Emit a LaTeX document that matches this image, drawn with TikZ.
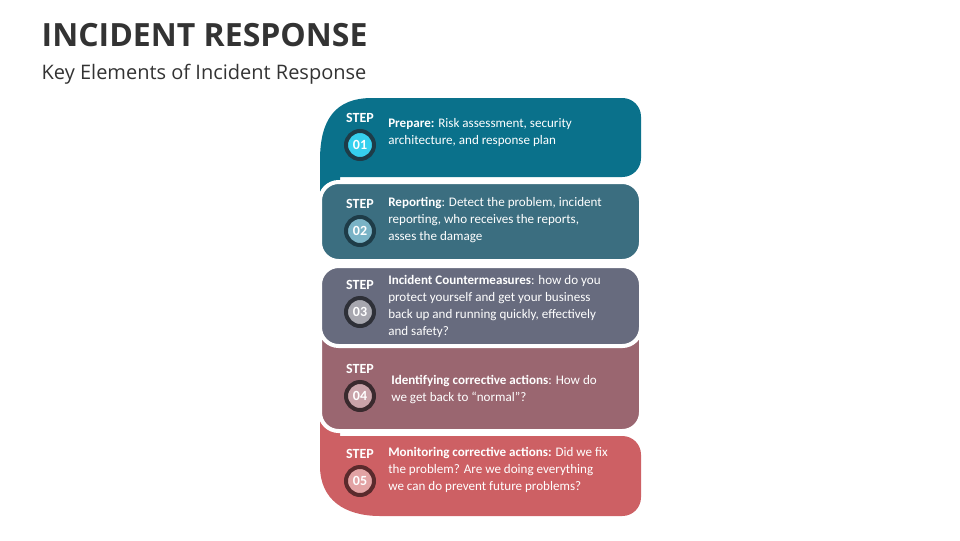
\documentclass[tikz,border=0pt]{standalone}
\usepackage{fontspec}
\setmainfont{Carlito}
\newfontfamily\titlefont{Open Sans}
\begin{document}
\begin{tikzpicture}[x=0.75pt,y=-0.75pt,
  sep/.style={draw=white,line width=3pt,rounded corners=14pt},
  steplbl/.style={font=\bfseries\fontsize{10.5pt}{12pt}\selectfont,text=white},
  num/.style={circle,minimum size=21pt,inner sep=0pt,line width=3pt,font=\bfseries\fontsize{10.5pt}{12pt}\selectfont,text=white},
  desc/.style={anchor=west,align=left,text=white,font=\fontsize{9.8pt}{12.75pt}\selectfont,inner sep=0pt}]
\definecolor{c1}{HTML}{0A718B}\definecolor{c2}{HTML}{3B6E80}
\definecolor{c3}{HTML}{676B7E}\definecolor{c4}{HTML}{9A6670}
\definecolor{c5}{HTML}{CD6064}
\useasboundingbox (0,0) rectangle (960,540);
\node[anchor=west,font=\titlefont\bfseries\fontsize{24pt}{28pt}\selectfont,text=black!80] (title) at (37,35) {INCIDENT RESPONSE};
\node[anchor=west,font=\titlefont\fontsize{15pt}{18pt}\selectfont,text=black!80] (sub) at (37,74) {Key Elements of Incident Response};
% band 1
\fill[c1] (320,240) -- (320,160) .. controls (320,120) and (335,98) .. (372,98) [rounded corners=14pt] -- (641,98) -- (641,177) [sharp corners] -- (340,177) -- (340,240) -- cycle;
% band 5
\fill[c5] (340,400) -- (320,400) -- (320,466) .. controls (320,500) and (345,516) .. (380,516) [rounded corners=14pt] -- (641,516) -- (641,436) [sharp corners]-- (340,436) -- cycle;
% band 4
\filldraw[c4,sep] (320,320) rectangle (641,431);
% band 2
\filldraw[c2,sep] (320,182) rectangle (641,261);
% band 3
\filldraw[c3,sep] (320,266) rectangle (641,346);
% steps
\foreach \i/\y/\f/\r in {1/145/36D0EE/1E3C48,2/231/7AB3C6/1E3C48,3/312/A7A7AF/2E3038,4/396/C9A3A9/3A2A2E,5/481/E2A3A4/5A2A2C}{
  \definecolor{f\i}{HTML}{\f}\definecolor{r\i}{HTML}{\r}
  \node[steplbl] (s\i) at (360,\y-27) {STEP};
  \node[num,fill=f\i,draw=r\i] (n\i) at (360,\y) {0\i};
}
\node[desc] (t1) at (388,133) {\textbf{Prepare:} Risk assessment, security\\architecture, and response plan};
\node[desc] (t2) at (388,220) {\textbf{Reporting}: Detect the problem, incident\\reporting, who receives the reports,\\asses the damage};
\node[desc] (t3) at (388,306) {\textbf{Incident Countermeasures}: how do you\\protect yourself and get your business\\back up and running quickly, effectively\\and safety?};
\node[desc] (t4) at (391,390) {\textbf{Identifying corrective actions}: How do\\we get back to “normal”?};
\node[desc] (t5) at (388,470) {\textbf{Monitoring corrective actions:} Did we fix\\the problem? Are we doing everything\\we can do prevent future problems?};
\end{tikzpicture}
\end{document}
